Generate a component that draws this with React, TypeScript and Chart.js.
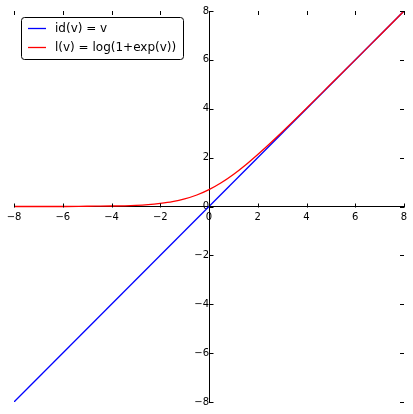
import { useEffect, useRef } from 'react';
import { Chart, registerables } from 'chart.js';

Chart.register(...registerables);

// identity line, read at the two ends
const ID_V = [-8, 8];
const ID_VALUES = [-8, 8];

// softplus curve
const SOFT_V = [-8, -7, -6, -5, -4, -3, -2.5, -2, -1.5, -1, -0.5, 0, 0.5, 1, 1.5, 2, 2.5, 3, 3.5, 4, 5, 6, 7, 8];
const SOFT_VALUES = [0.0, 0.0, 0.0, 0.01, 0.02, 0.05, 0.08, 0.13, 0.2, 0.31, 0.47, 0.69, 0.97, 1.31, 1.7, 2.13, 2.58, 3.05, 3.53, 4.02, 5.01, 6.0, 7.0, 8.0];

const TICKS = [-8, -6, -4, -2, 0, 2, 4, 6, 8];
const SERIES_NAMES = ['id(v) = v', 'l(v) = log(1+exp(v))'];
const SERIES_COLORS = ['#0000ff', '#ff0000'];

const FONT = 'DejaVu Sans';
const LINE_W = 1.3;

const fmt = (v: number) => (v < 0 ? '\u2212' + Math.abs(v) : String(v));

// matplotlib style ticks: pointing inwards, also on the top and right edges
const tickMarks = {
  id: 'tickMarks',
  afterDatasetsDraw(chart: any) {
    const { ctx, chartArea: a, scales } = chart;
    const x = scales.x;
    const y = scales.y;
    const x0 = Math.round(x.getPixelForValue(0)) + 0.5;
    const y0 = Math.round(y.getPixelForValue(0)) + 0.5;
    ctx.save();
    ctx.strokeStyle = '#000';
    ctx.lineWidth = 1;
    ctx.beginPath();
    TICKS.forEach((t) => {
      const px = Math.round(x.getPixelForValue(t)) + 0.5;
      ctx.moveTo(px, y0);
      ctx.lineTo(px, y0 - 4);
      ctx.moveTo(px, a.top);
      ctx.lineTo(px, a.top + 4);
      const py = Math.round(y.getPixelForValue(t)) + 0.5;
      ctx.moveTo(x0, py);
      ctx.lineTo(x0 + 4, py);
      ctx.moveTo(a.right, py);
      ctx.lineTo(a.right - 4, py);
    });
    ctx.stroke();
    ctx.restore();
  },
};

const boxLegend = {
  id: 'boxLegend',
  afterDraw(chart: any) {
    const { ctx } = chart;
    const bx = 21.5, by = 17.5, bw = 162, bh = 42, r = 3;
    ctx.save();
    ctx.beginPath();
    ctx.roundRect(bx, by, bw, bh, r);
    ctx.fillStyle = '#fff';
    ctx.fill();
    ctx.strokeStyle = '#000';
    ctx.lineWidth = 1;
    ctx.stroke();
    ctx.font = `12px "${FONT}"`;
    ctx.textBaseline = 'middle';
    ctx.fillStyle = '#000';
    SERIES_NAMES.forEach((name, i) => {
      const ly = 28.5 + i * 19;
      ctx.beginPath();
      ctx.strokeStyle = SERIES_COLORS[i];
      ctx.lineWidth = LINE_W;
      ctx.moveTo(28, ly);
      ctx.lineTo(46, ly);
      ctx.stroke();
      ctx.fillText(name, 55, ly);
    });
    ctx.restore();
  },
};

export default function App() {
  const canvasRef = useRef<HTMLCanvasElement>(null);

  useEffect(() => {
    document.body.style.margin = '0';
    if (!canvasRef.current) return;

    const tickOpts = {
      stepSize: 2,
      color: '#000',
      maxRotation: 0,
      autoSkip: false,
      font: { family: FONT, size: 10 },
      callback: (v: any) => fmt(Number(v)),
    };

    const chart = new Chart(canvasRef.current, {
      type: 'scatter',
      data: {
        datasets: [
          {
            label: SERIES_NAMES[1],
            data: SOFT_V.map((v, i) => ({ x: v, y: SOFT_VALUES[i] })),
            borderColor: SERIES_COLORS[1],
            borderWidth: LINE_W,
            showLine: true,
            pointRadius: 0,
            cubicInterpolationMode: 'monotone',
            order: 0,
          },
          {
            label: SERIES_NAMES[0],
            data: ID_V.map((v, i) => ({ x: v, y: ID_VALUES[i] })),
            borderColor: SERIES_COLORS[0],
            borderWidth: LINE_W,
            showLine: true,
            pointRadius: 0,
            order: 1,
          },
        ],
      },
      options: {
        animation: false,
        responsive: false,
        layout: { padding: { left: 14, right: 9, top: 11, bottom: 12 } },
        plugins: { legend: { display: false }, tooltip: { enabled: false } },
        scales: {
          x: {
            type: 'linear',
            min: -8,
            max: 8,
            position: { y: 0 },
            border: { display: true, color: '#000', width: 1 },
            grid: { drawOnChartArea: false, drawTicks: false },
            ticks: { ...tickOpts, padding: 5 },
          },
          y: {
            type: 'linear',
            min: -8,
            max: 8,
            position: { x: 0 },
            border: { display: true, color: '#000', width: 1 },
            grid: { drawOnChartArea: false, drawTicks: false },
            ticks: { ...tickOpts, padding: 5 },
          },
        },
      },
      plugins: [tickMarks, boxLegend],
    } as any);

    return () => chart.destroy();
  }, []);

  return (
    <div style={{ width: 413, height: 414, background: '#fff' }}>
      <canvas ref={canvasRef} width={413} height={414} />
    </div>
  );
}
